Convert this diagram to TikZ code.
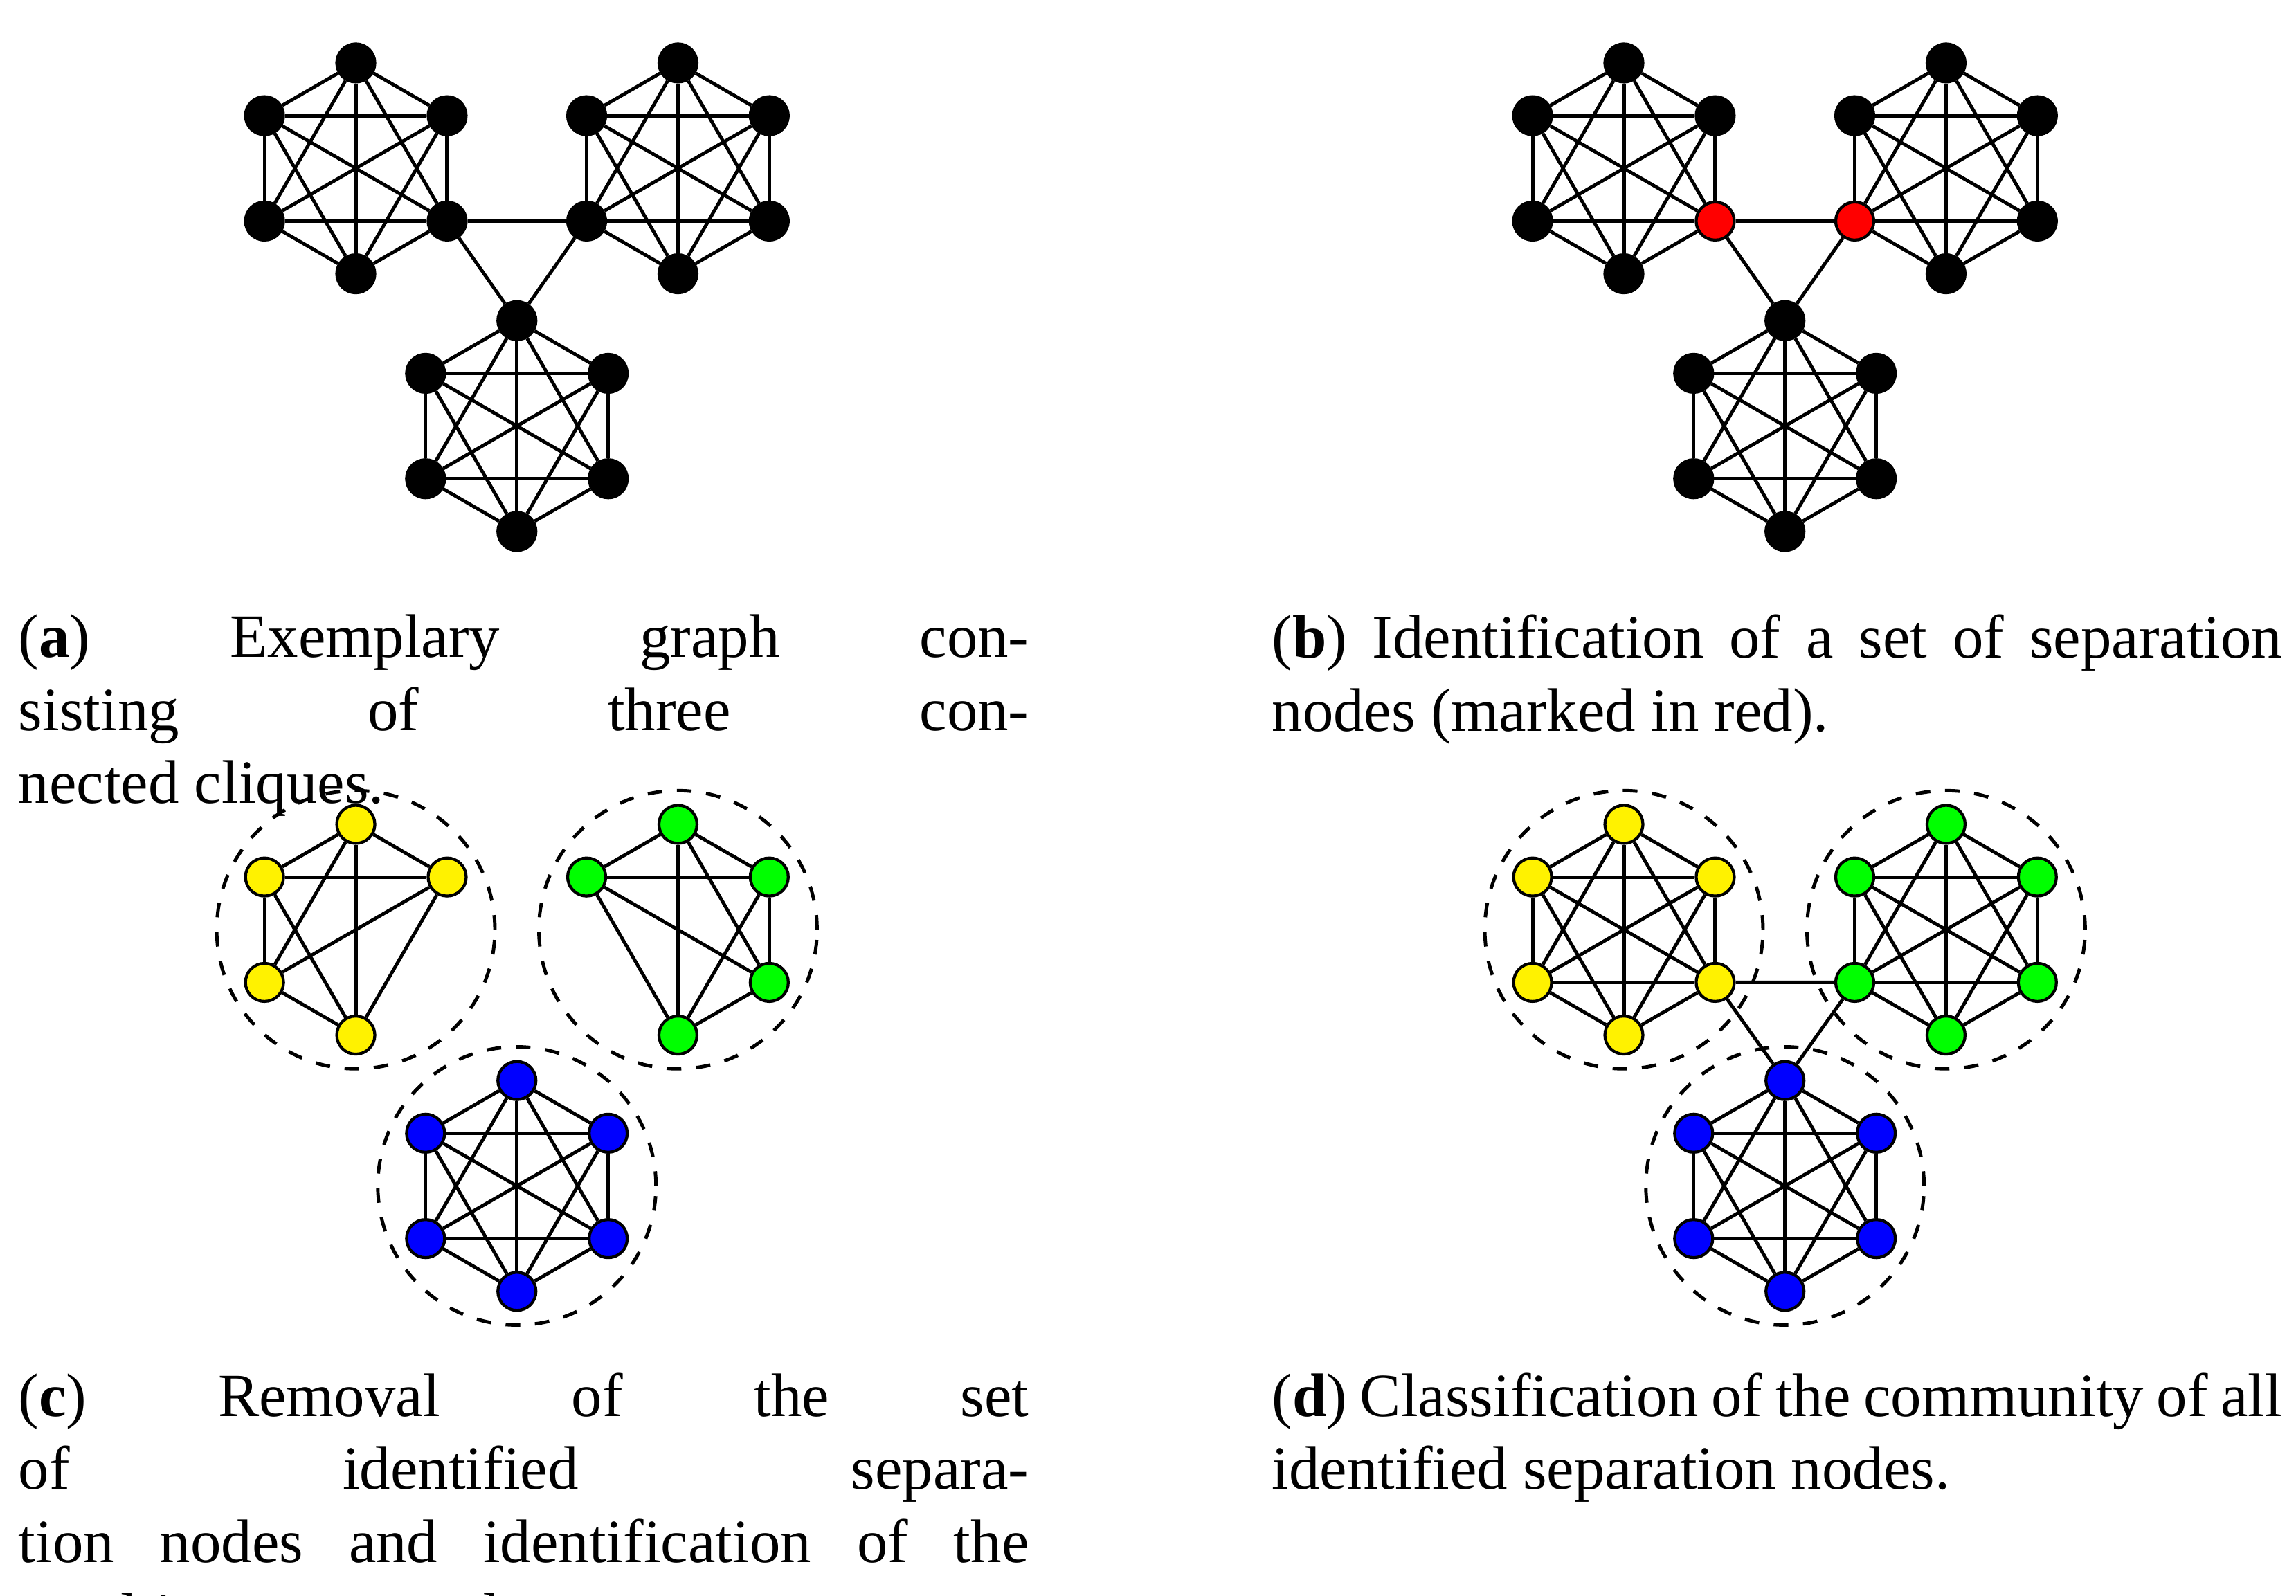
\documentclass[tikz,border=0pt]{standalone}
\usepackage{fontspec}
\setmainfont{Liberation Serif}
\usetikzlibrary{calc,backgrounds}
\tikzset{
  vertex/.style={
    % The shape:
    circle,
    % The size:
    minimum size=7.8pt, inner sep=0pt,
    % The border:
    line width=0.6pt, draw=black,
    fill=#1
  },
  vertex/.default=black,
  edge/.style={line width=0.7pt},
  group/.style={dashed, line width=0.7pt},
  caption/.style={anchor=north west, inner sep=0pt, text width=207pt,
    align=justify, font=\fontsize{12.6}{15}\selectfont}
}
% #1 prefix, #2 centre, #3 vertex colour, #4 indices kept
\newcommand\clique[4]{%
  \foreach \k in {#4}
    \node[vertex=#3] (#1\k) at ($(#2)+({-30-60*\k}:72)$) {};
  \begin{scope}[on background layer]
    \foreach \i in {#4}{\foreach \j in {#4}{%
      \ifnum\i<\j \draw[edge] (#1\i) -- (#1\j);\fi}}
  \end{scope}}

\begin{document}
\begin{tikzpicture}[x=0.3pt,y=-0.3pt]
  \useasboundingbox (0,0) rectangle (1568,1090);

  % (a)
  \clique{aL}{243,115}{black}{1,...,6}
  \clique{aR}{463,115}{black}{1,...,6}
  \clique{aB}{353,291}{black}{1,...,6}
  \begin{scope}[on background layer]
    \draw[edge] (aL5) -- (aR3) (aL5) -- (aB1) (aR3) -- (aB1);
  \end{scope}

  % (b)
  \clique{bL}{1109,115}{black}{1,2,3,4,6}
  \clique{bR}{1329,115}{black}{1,2,4,5,6}
  \clique{bB}{1219,291}{black}{1,...,6}
  \node[vertex=red] (bL5) at ($(1109,115)+(-330:72)$) {};
  \node[vertex=red] (bR3) at ($(1329,115)+(-210:72)$) {};
  \begin{scope}[on background layer]
    \foreach \k in {1,2,3,4,6} \draw[edge] (bL5) -- (bL\k);
    \foreach \k in {1,2,4,5,6} \draw[edge] (bR3) -- (bR\k);
    \draw[edge] (bL5) -- (bR3) (bL5) -- (bB1) (bR3) -- (bB1);
  \end{scope}

  % (c)
  \clique{cL}{243,635}{yellow}{1,2,3,4,6}
  \clique{cR}{463,635}{green}{1,2,4,5,6}
  \clique{cB}{353,810}{blue}{1,...,6}
  \foreach \x/\y in {243/635,463/635,353/810}
    \draw[group] (\x,\y) circle [radius=28.5pt];

  % (d)
  \clique{dL}{1109,635}{yellow}{1,...,6}
  \clique{dR}{1329,635}{green}{1,...,6}
  \clique{dB}{1219,810}{blue}{1,...,6}
  \begin{scope}[on background layer]
    \draw[edge] (dL5) -- (dR3) (dL5) -- (dB1) (dR3) -- (dB1);
  \end{scope}
  \foreach \x/\y in {1109/635,1329/635,1219/810}
    \draw[group] (\x,\y) circle [radius=28.5pt];

  % captions
  \node[caption] (capa) at (12,419) {(\textbf{a}) Exemplary graph consisting of three con-\linebreak nected cliques.};
  \node[caption] (capb) at (868,419) {(\textbf{b}) Identification of a set of separation nodes (marked in red).};
  \node[caption] (capc) at (12,937) {(\textbf{c}) Removal of the set of identified separa-\linebreak tion nodes and identification of the resulting connected components.};
  \node[caption] (capd) at (868,937) {(\textbf{d}) Classification of the community of all identified separation nodes.};
\end{tikzpicture}
\end{document}
